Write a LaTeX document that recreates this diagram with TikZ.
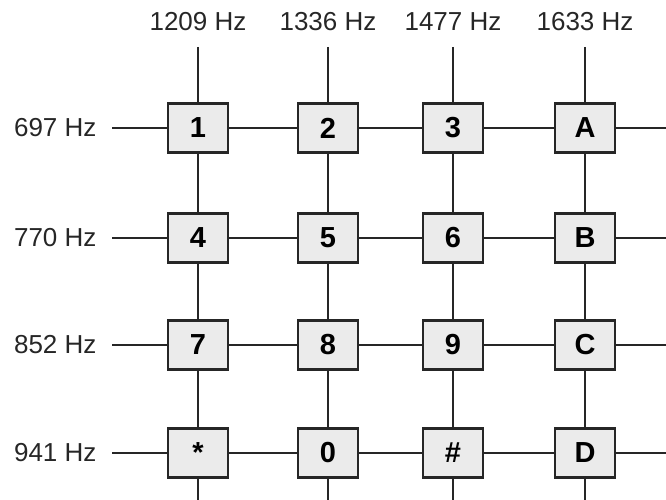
\documentclass[tikz,border=0pt]{standalone}
\usepackage{fontspec}
\setmainfont{Liberation Sans}
\begin{document}
\begin{tikzpicture}[x=1pt,y=-1pt,
  key/.style={draw=black!85,line width=2.2pt,fill=black!8,minimum width=60pt,minimum height=49pt,font=\fontsize{29}{32}\selectfont\bfseries,inner sep=0pt},
  lab/.style={font=\fontsize{26}{30}\selectfont,text=black!85},
  wire/.style={line width=2.2pt,draw=black!85}]
\useasboundingbox (0,0) rectangle (666,500);
\foreach \x/\f [count=\i] in {198/1209,328/1336,453/1477,585/1633}{
  \node[lab] (c\i) at (\x,22) {\f\ Hz};
  \coordinate (ct\i) at (\x,47);
  \coordinate (cb\i) at (\x,500);
  \draw[wire] (ct\i) -- (cb\i);
}
\foreach \y/\f [count=\j] in {128/697,238/770,345/852,453/941}{
  \node[lab,anchor=east] (r\j) at (100,\y) {\f\ Hz};
  \coordinate (rl\j) at (112,\y);
  \coordinate (rr\j) at (666,\y);
  \draw[wire] (rl\j) -- (rr\j);
}
\foreach \t [count=\k from 0] in {1,2,3,A,4,5,6,B,7,8,9,C,*,0,\#,D}{
  \pgfmathtruncatemacro\cc{mod(\k,4)+1}
  \pgfmathtruncatemacro\rr{int(\k/4)+1}
  \node[key] (k\k) at (c\cc |- r\rr) {\t};
}
\end{tikzpicture}
\end{document}
